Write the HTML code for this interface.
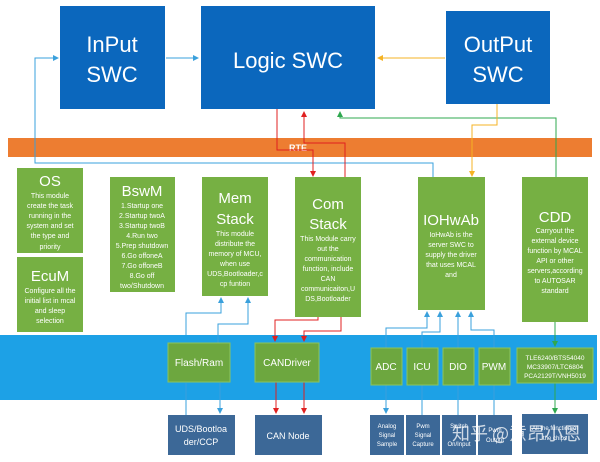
<!DOCTYPE html>
<html><head><meta charset="utf-8"><style>
body{margin:0;background:#fff;}
svg{display:block;font-family:"Liberation Sans","Noto Sans CJK SC",sans-serif;}
</style></head><body>
<svg width="600" height="462" viewBox="0 0 600 462" xmlns="http://www.w3.org/2000/svg">
<defs>
<marker id="ab" markerWidth="6" markerHeight="6" refX="5" refY="3" orient="auto"><path d="M0,0L6,3L0,6z" fill="#3aa0dc"/></marker>
<marker id="ar" markerWidth="6" markerHeight="6" refX="5" refY="3" orient="auto"><path d="M0,0L6,3L0,6z" fill="#e02020"/></marker>
<marker id="ag" markerWidth="6" markerHeight="6" refX="5" refY="3" orient="auto"><path d="M0,0L6,3L0,6z" fill="#2fa84f"/></marker>
<marker id="ay" markerWidth="6" markerHeight="6" refX="5" refY="3" orient="auto"><path d="M0,0L6,3L0,6z" fill="#f5b324"/></marker>
</defs>
<rect width="600" height="462" fill="#fff"/>
<!-- top boxes -->
<rect x="60" y="6" width="105" height="103" fill="#0b67bd"/>
<text x="112" y="52" font-size="22" fill="#fff" text-anchor="middle">InPut</text>
<text x="112" y="82" font-size="22" fill="#fff" text-anchor="middle">SWC</text>
<rect x="201" y="6" width="174" height="103" fill="#0b67bd"/>
<text x="288" y="68" font-size="22" fill="#fff" text-anchor="middle">Logic SWC</text>
<rect x="446" y="11" width="104" height="93" fill="#0b67bd"/>
<text x="498" y="52" font-size="22" fill="#fff" text-anchor="middle">OutPut</text>
<text x="498" y="82" font-size="22" fill="#fff" text-anchor="middle">SWC</text>
<!-- RTE -->
<rect x="8" y="138" width="584" height="19" fill="#ed7d31"/>
<text x="298" y="151" font-size="9" fill="#fff" font-weight="bold" text-anchor="middle">RTE</text>
<!-- top connectors -->
<path d="M166,58H198" stroke="#3aa0dc" fill="none" marker-end="url(#ab)"/>
<path d="M445,58H378" stroke="#f5b324" fill="none" marker-end="url(#ay)"/>
<path d="M433,178V163H35V58H58" stroke="#3aa0dc" fill="none" marker-end="url(#ab)"/>
<path d="M277,109V150H313V176" stroke="#e02020" fill="none" marker-end="url(#ar)"/>
<path d="M345,178V143H304V112" stroke="#e02020" fill="none" marker-end="url(#ar)"/>
<path d="M556,178V118H340V112" stroke="#2fa84f" fill="none" marker-end="url(#ag)"/>
<path d="M497,104V125H472V176" stroke="#f5b324" fill="none" marker-end="url(#ay)"/>
<!-- green modules -->
<g fill="#76b043">
<rect x="17" y="168" width="66" height="85"/>
<rect x="17" y="257" width="66" height="75"/>
<rect x="110" y="177" width="65" height="115"/>
<rect x="202" y="177" width="66" height="119"/>
<rect x="295" y="177" width="66" height="140"/>
<rect x="418" y="177" width="67" height="133"/>
<rect x="522" y="177" width="66" height="145"/>
</g>
<g fill="#fff" text-anchor="middle" font-size="7">
<text x="50" y="186" font-size="15">OS</text>
<text x="50" y="198">This module</text><text x="50" y="208">create the task</text><text x="50" y="218">running in the</text><text x="50" y="228">system and set</text><text x="50" y="238">the type and</text><text x="50" y="249">priority</text>
<text x="50" y="281" font-size="15">EcuM</text>
<text x="50" y="293">Configure all the</text><text x="50" y="303">initial list in mcal</text><text x="50" y="313">and  sleep</text><text x="50" y="323">selection</text>
<text x="142" y="196" font-size="15">BswM</text>
<text x="142" y="208">1.Startup one</text><text x="142" y="218">2.Startup twoA</text><text x="142" y="228">3.Startup twoB</text><text x="142" y="238">4.Run two</text><text x="142" y="248">5.Prep shutdown</text><text x="142" y="258">6.Go  offoneA</text><text x="142" y="268">7.Go offoneB</text><text x="142" y="278">8.Go off</text><text x="142" y="288">two/Shutdown</text>
<text x="235" y="203" font-size="15">Mem</text><text x="235" y="224" font-size="15">Stack</text>
<text x="235" y="236">This module</text><text x="235" y="246">distribute the</text><text x="235" y="256">memory of MCU,</text><text x="235" y="266">when use</text><text x="235" y="276">UDS,Bootloader,c</text><text x="235" y="286">cp funtion</text>
<text x="328" y="209" font-size="15">Com</text><text x="328" y="229" font-size="15">Stack</text>
<text x="328" y="241">This Module carry</text><text x="328" y="251">out the</text><text x="328" y="261">communication</text><text x="328" y="271">function, include</text><text x="328" y="281">CAN</text><text x="328" y="291">communicaiton,U</text><text x="328" y="301">DS,Bootloader</text>
<text x="451" y="225" font-size="15">IOHwAb</text>
<text x="451" y="237">IoHwAb is the</text><text x="451" y="247">server SWC to</text><text x="451" y="257">supply the driver</text><text x="451" y="267">that uses MCAL</text><text x="451" y="277">and</text>
<text x="555" y="222" font-size="15">CDD</text>
<text x="555" y="233">Carryout the</text><text x="555" y="243">external device</text><text x="555" y="253">function by MCAL</text><text x="555" y="263">API or other</text><text x="555" y="273">servers,according</text><text x="555" y="283">to AUTOSAR</text><text x="555" y="293">standard</text>
</g>
<!-- blue band -->
<rect x="0" y="335" width="597" height="65" fill="#1da1e6"/>
<!-- band connectors -->
<path d="M186,335V313H221V298" stroke="#3aa0dc" fill="none" marker-end="url(#ab)"/>
<path d="M218,343V324H248V298" stroke="#3aa0dc" fill="none" marker-end="url(#ab)"/>
<path d="M318,317V320H275V341" stroke="#e02020" fill="none" marker-end="url(#ar)"/>
<path d="M341,317V331H304V341" stroke="#e02020" fill="none" marker-end="url(#ar)"/>
<path d="M386,348V328H427V312" stroke="#3aa0dc" fill="none" marker-end="url(#ab)"/>
<path d="M422,348V332H440V312" stroke="#3aa0dc" fill="none" marker-end="url(#ab)"/>
<path d="M458,348V312" stroke="#3aa0dc" fill="none" marker-end="url(#ab)"/>
<path d="M494,348V330H471V312" stroke="#3aa0dc" fill="none" marker-end="url(#ab)"/>
<path d="M555,322V346" stroke="#2fa84f" fill="none" marker-end="url(#ag)"/>
<path d="M186,383V415M220,383V413" stroke="#3aa0dc" fill="none"/>
<path d="M220,400V413" stroke="#3aa0dc" marker-end="url(#ab)"/>
<path d="M276,382V413" stroke="#e02020" marker-end="url(#ar)"/>
<path d="M304,382V413" stroke="#e02020" marker-end="url(#ar)"/>
<path d="M386,385V413" stroke="#3aa0dc" marker-end="url(#ab)"/>
<path d="M422,385V415M458,385V415M494,385V415" stroke="#3aa0dc"/>
<path d="M555,383V413" stroke="#2fa84f" marker-end="url(#ag)"/>
<!-- band boxes -->
<g fill="#6da73f" stroke="#8cc45f" stroke-width="1">
<rect x="168" y="343" width="62" height="39"/>
<rect x="255" y="343" width="64" height="39"/>
<rect x="371" y="348" width="31" height="37"/>
<rect x="407" y="348" width="31" height="37"/>
<rect x="443" y="348" width="31" height="37"/>
<rect x="479" y="348" width="31" height="37"/>
<rect x="517" y="348" width="76" height="35"/>
</g>
<g fill="#fff" text-anchor="middle" font-size="10">
<text x="199" y="366">Flash/Ram</text>
<text x="287" y="366">CANDriver</text>
<text x="386" y="370">ADC</text><text x="422" y="370">ICU</text><text x="458" y="370">DIO</text><text x="494" y="370">PWM</text>
<text x="555" y="360" font-size="6.5">TLE6240/BTS54040</text>
<text x="555" y="369" font-size="6.5">MC33907/LTC6804</text>
<text x="555" y="378" font-size="6.5">PCA2129T/VNH5019</text>
</g>
<!-- bottom boxes -->
<g fill="#3c6897">
<rect x="168" y="415" width="67" height="40"/>
<rect x="255" y="415" width="67" height="40"/>
<rect x="370" y="415" width="34" height="40"/>
<rect x="406" y="415" width="34" height="40"/>
<rect x="442" y="415" width="34" height="40"/>
<rect x="478" y="415" width="34" height="40"/>
<rect x="522" y="414" width="66" height="40"/>
</g>
<g fill="#fff" text-anchor="middle" font-size="9">
<text x="201" y="432">UDS/Bootloa</text><text x="201" y="445">der/CCP</text>
<text x="288" y="439">CAN Node</text>
<g font-size="6"><text x="387" y="428">Analog</text><text x="387" y="437">Signal</text><text x="387" y="446">Sample</text>
<text x="423" y="428">Pwm</text><text x="423" y="437">Signal</text><text x="423" y="446">Capture</text>
<text x="459" y="428">Switch</text><text x="459" y="446">On/Input</text>
<text x="495" y="432">Pwm</text><text x="495" y="442">Output</text>
<text x="555" y="430">All the function of</text><text x="555" y="440">the chips</text></g>
</g>
<text x="452" y="440" font-size="18" fill="#ffffff" fill-opacity="0.75" font-family="Noto Sans CJK SC,sans-serif">知乎 @意昂小恩</text>
</svg>
</body></html>
